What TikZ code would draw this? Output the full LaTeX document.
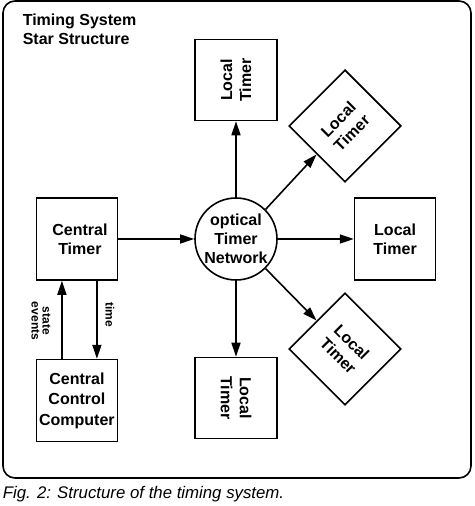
\documentclass[tikz,border=0pt]{standalone}
\usepackage{fontspec}
\setmainfont{Liberation Sans}
\usepackage{tikz}
\usetikzlibrary{arrows.meta,positioning,shapes.geometric}

\begin{document}
\begin{tikzpicture}[x=1pt,y=1pt,line width=1.6pt,
  every node/.style={font=\bfseries\fontsize{16}{19}\selectfont},
  box/.style={draw,minimum width=81pt,minimum height=82pt,inner sep=0pt,align=center},
  diam/.style={draw,minimum size=79pt,inner sep=0pt,align=center},
  arr/.style={-{Triangle[length=14pt,width=9pt]}},
  lbl/.style={font=\bfseries\fontsize{12}{11}\selectfont,align=center,rotate=-90}]
  \useasboundingbox (0,0) rectangle (474,506);
  \draw[rounded corners=12pt] (3,28) rectangle (471,505);
  \node[anchor=north west,align=left,inner sep=0pt] (title) at (22,493) {Timing System\\Star Structure};
  \node[circle,draw,minimum size=82pt,inner sep=0pt,align=center] (net) at (236,267) {optical\\Timer\\Network};
  \node[box,left=76pt of net] (ct) {\hspace*{6pt}Central\\\hspace*{6pt}Timer};
  \node[box,below=78pt of ct,font=\bfseries\fontsize{16}{20.5}\selectfont] (ccc) {Central\\Control\\Computer};
  \node[box,rotate=90] (ltop) at (236,426) {Local\\Timer};
  \node[box,right=76pt of net] (lright) {Local\\Timer};
  \node[box,rotate=-90] (lbot) at (236,108) {Local\\Timer};
  \node[diam,rotate=45] (lup) at (345,380) {Local\\Timer};
  \node[diam,rotate=-45] (ldown) at (345,157) {Local\\Timer};
  \draw[arr] (ct.east) -- (net.west);
  \draw[arr] (net.north) -- (ltop.west);
  \draw[arr] (net.east) -- (lright.west);
  \draw[arr] (net.south) -- (lbot.west);
  \draw[arr] (net.45) -- (lup.west);
  \draw[arr] (net.-45) -- (ldown.west);
  \draw[arr] ([xshift=-15pt]ccc.north) -- ([xshift=-15pt]ccc.north |- ct.south);
  \draw[arr] ([xshift=20pt]ct.south) -- ([xshift=20pt]ct.south |- ccc.north);
  \node[lbl] (events) at (41,185) {state\\events};
  \node[lbl] (time) at (110,191) {time};
  \node[anchor=base west,inner sep=0pt,font=\itshape\fontsize{16.8}{19}\selectfont] (caption) at (2,8) {Fig. 2: Structure of the timing system.};
\end{tikzpicture}
\end{document}
